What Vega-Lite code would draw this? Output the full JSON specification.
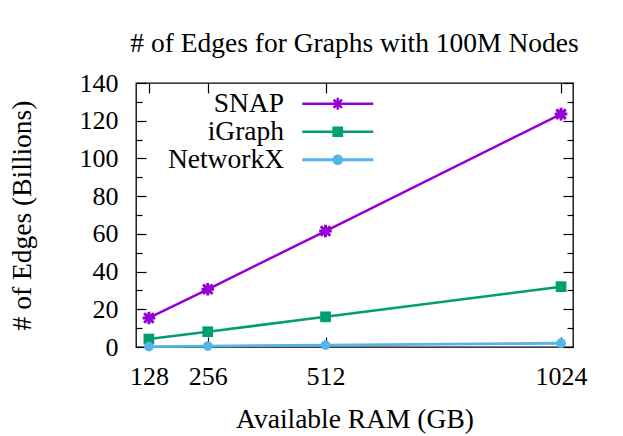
{
  "$schema": "https://vega.github.io/schema/vega-lite/v6.json",
  "width": 437,
  "height": 264,
  "autosize": {"type": "none"},
  "padding": {"left": 136, "top": 83, "right": 50, "bottom": 89},
  "background": "white",
  "title": {"text": "# of Edges for Graphs with 100M Nodes", "font": "Liberation Serif", "fontSize": 27.5, "fontWeight": "normal", "color": "black", "baseline": "alphabetic", "offset": -9},
  "config": {
    "view": {"stroke": "black", "strokeWidth": 1.3},
    "axis": {"domain": false, "grid": false, "labelFont": "Liberation Serif", "labelFontSize": 26, "labelColor": "black", "titleFont": "Liberation Serif", "titleFontSize": 27.5, "titleFontWeight": "normal", "titleColor": "black", "tickColor": "black", "tickWidth": 1.2, "labelFlush": false, "labelOverlap": false}
  },
  "data": {"values": [
    {"ram": 128, "edges": 15.4, "series": "SNAP"},
    {"ram": 256, "edges": 30.6, "series": "SNAP"},
    {"ram": 512, "edges": 61.5, "series": "SNAP"},
    {"ram": 1024, "edges": 123.5, "series": "SNAP"},
    {"ram": 128, "edges": 4.2, "series": "iGraph"},
    {"ram": 256, "edges": 8.1, "series": "iGraph"},
    {"ram": 512, "edges": 16.0, "series": "iGraph"},
    {"ram": 1024, "edges": 32.0, "series": "iGraph"},
    {"ram": 128, "edges": 0.25, "series": "NetworkX"},
    {"ram": 256, "edges": 0.5, "series": "NetworkX"},
    {"ram": 512, "edges": 1.0, "series": "NetworkX"},
    {"ram": 1024, "edges": 2.0, "series": "NetworkX"}
  ]},
  "layer": [
    {
      "transform": [{"filter": "datum.series === 'SNAP'"}],
      "mark": {"type": "line", "strokeWidth": 2.5, "color": "#9400D3",
               "point": {"shape": "M-1,0L1,0M0,-1L0,1M-0.75,-0.75L0.75,0.75M-0.75,0.75L0.75,-0.75", "filled": false, "size": 160, "strokeWidth": 3, "opacity": 1, "color": "#9400D3"}},
      "encoding": {
        "x": {"field": "ram", "type": "quantitative", "scale": {"domain": [100, 1050], "nice": false, "zero": false},
              "axis": {"orient": "bottom", "values": [128, 256, 512, 1024], "format": "d", "tickSize": -10, "labelPadding": 47, "labelBaseline": "alphabetic", "title": "Available RAM (GB)", "titlePadding": 16}},
        "y": {"field": "edges", "type": "quantitative", "scale": {"domain": [0, 140], "nice": false},
              "axis": {"orient": "left", "values": [0, 20, 40, 60, 80, 100, 120, 140], "tickSize": -10, "labelPadding": 28, "title": "# of Edges (Billions)", "titlePadding": 43}}
      }
    },
    {
      "transform": [{"filter": "datum.series === 'iGraph'"}],
      "mark": {"type": "line", "strokeWidth": 2.5, "color": "#009E73",
               "point": {"shape": "square", "size": 115, "filled": true, "opacity": 1, "color": "#009E73"}},
      "encoding": {
        "x": {"field": "ram", "type": "quantitative", "axis": {"orient": "top", "values": [128, 256, 512, 1024], "tickSize": -10, "labels": false, "title": null}},
        "y": {"field": "edges", "type": "quantitative", "axis": {"orient": "right", "values": [0, 20, 40, 60, 80, 100, 120, 140], "tickSize": -10, "labels": false, "title": null}}
      }
    },
    {
      "transform": [{"filter": "datum.series === 'NetworkX'"}],
      "mark": {"type": "line", "strokeWidth": 2.8, "color": "#56B4E9",
               "point": {"shape": "circle", "size": 95, "filled": true, "opacity": 1, "color": "#56B4E9"}},
      "encoding": {
        "x": {"field": "ram", "type": "quantitative", "axis": null},
        "y": {"field": "edges", "type": "quantitative", "axis": {"orient": "left", "values": [10, 30, 50, 70, 90, 110, 130], "tickSize": -6, "labels": false, "title": null}}
      }
    },
    {
      "mark": {"type": "point", "filled": true, "opacity": 0},
      "encoding": {
        "x": {"field": "ram", "type": "quantitative", "axis": null},
        "y": {"field": "edges", "type": "quantitative", "axis": {"orient": "right", "values": [10, 30, 50, 70, 90, 110, 130], "tickSize": -6, "labels": false, "title": null}},
        "color": {"field": "series", "type": "nominal", "scale": {"domain": ["SNAP", "iGraph", "NetworkX"], "range": ["#9400D3", "#009E73", "#56B4E9"]},
                  "legend": {"title": null, "orient": "none", "legendX": 188, "legendY": 7, "labelAlign": "right", "labelOffset": -67.5, "labelFont": "Liberation Serif", "labelFontSize": 27.5, "labelColor": "black", "symbolSize": 114.5, "symbolStrokeWidth": 0, "rowPadding": -1.3, "padding": 0, "symbolOpacity": 1}},
        "shape": {"field": "series", "type": "nominal", "scale": {"domain": ["SNAP", "iGraph", "NetworkX"], "range": [
          "M-6.64,-0.23H6.64V0.23H-6.64Z M-0.22,-1.1H0.22V1.1H-0.22Z M-0.6,-0.95L0.95,0.6L0.6,0.95L-0.95,-0.6Z M0.95,-0.6L-0.6,0.95L-0.95,0.6L0.6,-0.95Z",
          "M-6.64,-0.23H6.64V0.23H-6.64Z M-1,-1H1V1H-1Z",
          "M-6.64,-0.27H6.64V0.27H-6.64Z M-1,0A1,1,0,1,1,1,0A1,1,0,1,1,-1,0Z"
        ]},
                  "legend": {"title": null, "orient": "none", "legendX": 188, "legendY": 7, "labelAlign": "right", "labelOffset": -67.5, "labelFont": "Liberation Serif", "labelFontSize": 27.5, "labelColor": "black", "symbolSize": 114.5, "symbolStrokeWidth": 0, "rowPadding": -1.3, "padding": 0, "symbolOpacity": 1}}
      }
    }
  ],
  "resolve": {"axis": {"x": "independent", "y": "independent"}}
}
